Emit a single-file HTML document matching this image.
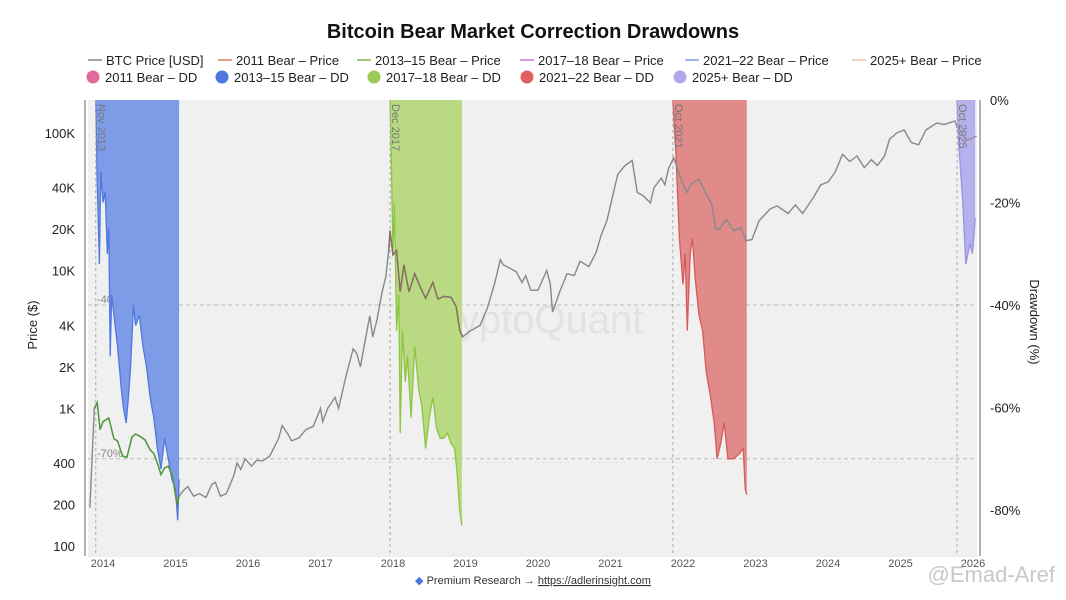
<!DOCTYPE html>
<html><head><meta charset="utf-8"><style>
body{margin:0;background:#fff;font-family:"Liberation Sans",sans-serif}
svg{display:block}
</style></head><body>
<svg id="c" width="1066" height="600" viewBox="0 0 1066 600" xmlns="http://www.w3.org/2000/svg" font-family="Liberation Sans, sans-serif">
<rect x="0" y="0" width="1066" height="600" fill="#fff"/>
<text x="533" y="38" text-anchor="middle" font-size="20" font-weight="bold" fill="#111">Bitcoin Bear Market Correction Drawdowns</text>
<rect x="88" y="100" width="889" height="455" fill="#f0f0f0"/>
<text x="530" y="333" text-anchor="middle" font-size="40" fill="#e2e2e4">CryptoQuant</text>
<g id="g"></g>
<line x1="85" y1="100" x2="85" y2="556" stroke="#999" stroke-width="1.5"/>
<line x1="980" y1="100" x2="980" y2="556" stroke="#999" stroke-width="1.5"/>
<line x1="88" y1="556" x2="977" y2="556" stroke="#ddd"/>
<text transform="translate(37,325) rotate(-90)" text-anchor="middle" font-size="13" fill="#222">Price ($)</text>
<text transform="translate(1030,322) rotate(90)" text-anchor="middle" font-size="13" fill="#222">Drawdown (%)</text>
<text x="533" y="584" text-anchor="middle" font-size="11" fill="#333"><tspan fill="#4a74de">◆</tspan> Premium Research → <tspan text-decoration="underline">https://adlerinsight.com</tspan></text>
<text x="1055" y="582" text-anchor="end" font-size="22" fill="#c8c8c8">@Emad-Aref</text>
<g id="legend" font-size="13" fill="#222"></g>
</svg>
<script>
const yearTicks=[2014,2015,2016,2017,2018,2019,2020,2021,2022,2023,2024,2025,2026];
const priceTicks=[100000,40000,20000,10000,4000,2000,1000,400,200,100];
const priceTickLabels=["100K","40K","20K","10K","4K","2K","1K","400","200","100"];
const ddTicks=[0,-20,-40,-60,-80];
const refLevels=[-40,-70];
const btcT=[2013.82,2013.88,2013.92,2013.96,2014.0,2014.08,2014.15,2014.2,2014.27,2014.33,2014.4,2014.45,2014.5,2014.58,2014.65,2014.7,2014.75,2014.8,2014.85,2014.9,2014.96,2015.02,2015.05,2015.1,2015.17,2015.25,2015.33,2015.42,2015.5,2015.55,2015.62,2015.7,2015.8,2015.85,2015.9,2015.96,2016.05,2016.12,2016.2,2016.3,2016.42,2016.47,2016.55,2016.6,2016.7,2016.8,2016.9,2017.0,2017.03,2017.1,2017.2,2017.25,2017.35,2017.45,2017.5,2017.55,2017.6,2017.68,2017.72,2017.78,2017.85,2017.9,2017.94,2017.96,2018.0,2018.05,2018.1,2018.15,2018.22,2018.3,2018.38,2018.45,2018.55,2018.62,2018.7,2018.8,2018.87,2018.92,2018.96,2019.05,2019.2,2019.3,2019.4,2019.48,2019.52,2019.6,2019.7,2019.78,2019.83,2019.9,2020.0,2020.12,2020.17,2020.2,2020.3,2020.4,2020.5,2020.58,2020.7,2020.8,2020.87,2020.95,2021.02,2021.1,2021.2,2021.3,2021.37,2021.45,2021.55,2021.6,2021.7,2021.75,2021.8,2021.87,2021.9,2021.97,2022.05,2022.12,2022.22,2022.3,2022.4,2022.45,2022.5,2022.6,2022.7,2022.8,2022.87,2022.95,2023.05,2023.2,2023.3,2023.45,2023.55,2023.65,2023.8,2023.9,2024.0,2024.1,2024.2,2024.3,2024.4,2024.5,2024.6,2024.68,2024.78,2024.85,2024.95,2025.05,2025.15,2025.25,2025.35,2025.5,2025.6,2025.75,2025.78,2025.85,2025.9,2025.95,2026.0,2026.05];
const btcP=[190,1000,1100,700,800,850,600,580,450,440,620,650,630,590,500,470,400,330,370,380,320,200,230,250,270,230,240,225,280,290,230,240,320,400,360,430,380,420,415,450,600,750,650,580,610,700,740,1000,800,1000,1200,1000,1700,2700,2500,2000,2800,4700,3300,4400,7000,9000,14000,19500,13000,14000,7000,11000,7000,9500,7500,6300,8200,6200,6500,6400,5500,3700,3300,3600,4000,5300,8000,12000,11000,10500,9800,8200,9200,7200,7200,10000,8000,5000,7000,9500,9200,11700,10700,13500,18000,23000,33000,50000,58000,63000,37000,35000,31000,40000,47000,42000,55000,66000,60000,47000,37000,43000,46000,38000,30000,20000,20000,23500,19500,20500,16500,16800,23000,28000,29500,26000,30000,26000,34000,42000,44000,52000,70000,62000,68000,56000,64000,58000,68000,90000,100000,105000,85000,82000,105000,118000,115000,122000,110000,100000,88000,90000,92000,95000];
const bearNames=["Nov 2013","Dec 2017","Oct 2021","Oct 2025"];
const bearStart=[2013.9,2017.96,2021.86,2025.78];
const bearEnd=[2015.05,2018.96,2022.9,2026.05];
const dd13T=[2013.90,2013.92,2013.95,2013.97,2014.0,2014.03,2014.06,2014.08,2014.1,2014.12,2014.15,2014.2,2014.25,2014.28,2014.32,2014.35,2014.38,2014.42,2014.45,2014.5,2014.55,2014.6,2014.65,2014.7,2014.75,2014.8,2014.85,2014.9,2014.95,2015.0,2015.03,2015.05];
const dd13V=[0,-16,-32,-14,-20,-18,-30,-25,-50,-38,-42,-48,-56,-60,-63,-58,-52,-40,-44,-42,-48,-52,-58,-62,-68,-72,-66,-70,-74,-76,-82,-74];
const dd17T=[2017.96,2017.98,2018.0,2018.02,2018.05,2018.08,2018.1,2018.13,2018.17,2018.2,2018.25,2018.3,2018.35,2018.4,2018.45,2018.5,2018.55,2018.6,2018.65,2018.7,2018.75,2018.8,2018.85,2018.88,2018.92,2018.95];
const dd17V=[0,-15,-30,-20,-45,-38,-65,-45,-55,-50,-62,-48,-56,-60,-68,-62,-58,-64,-66,-66,-65,-67,-68,-72,-80,-83];
const dd21T=[2021.86,2021.9,2021.95,2022.0,2022.03,2022.06,2022.1,2022.13,2022.17,2022.22,2022.27,2022.32,2022.38,2022.43,2022.47,2022.52,2022.57,2022.62,2022.7,2022.78,2022.83,2022.86,2022.88];
const dd21V=[0,-10,-27,-36,-30,-45,-30,-27,-35,-42,-45,-53,-58,-63,-70,-67,-63,-70,-70,-69,-68,-76,-77];
const dd25T=[2025.78,2025.8,2025.83,2025.86,2025.88,2025.9,2025.93,2025.96,2025.99,2026.01,2026.03];
const dd25V=[0,-8,-14,-20,-26,-32,-30,-28,-30,-27,-23];

const NS="http://www.w3.org/2000/svg";
const X=t=>103+(t-2014)*72.5;
const YP=p=>546-137.7*Math.log10(p/100);
const YD=d=>100-d*(410/80);
const g=document.getElementById('g');
function mk(tag,a,par){const e=document.createElementNS(NS,tag);for(const k in a)e.setAttribute(k,a[k]);(par||g).appendChild(e);return e;}

refLevels.forEach(l=>{
 const ln=mk('line',{x1:88,x2:977,y1:YD(l),y2:YD(l),stroke:'#bbb','stroke-dasharray':'4,3'});
 
 
 const t=mk('text',{x:97,y:YD(l)-2,'font-size':11,fill:'#888'});t.textContent=l+'%';
 
 
});
const dds=[[dd13T,dd13V,'#7d9be6','#4f78e0'],[dd17T,dd17V,'#b9d983','#8cc63f'],[dd21T,dd21V,'#e08a8a','#d65a5a'],[dd25T,dd25V,'#b6b1ec','#9a92e4']];
const ddNames=['dd-2013-15','dd-2017-18','dd-2021-22','dd-2025'];
dds.forEach((d,i)=>{
 const [T,V,fc,lc]=d;
 let pts=T.map((t,j)=>X(t).toFixed(1)+','+YD(V[j]).toFixed(1));
 const poly=mk('polygon',{points:X(T[0])+','+YD(0)+' '+pts.join(' ')+' '+X(T[T.length-1])+','+YD(0),fill:fc});
 
 
 const pl=mk('polyline',{points:pts.join(' '),fill:'none',stroke:lc,'stroke-width':1.3});
 
 
});
bearStart.forEach((t,i)=>{
 const l=mk('line',{x1:X(t),x2:X(t),y1:100,y2:556,stroke:'#aaa','stroke-dasharray':'3,3'});
 
 
 const tx=mk('text',{transform:`translate(${X(t)+2},104) rotate(90)`,'font-size':11,fill:'#777'});
 tx.textContent=bearNames[i];
 
 
});
const bp=mk('polyline',{points:btcT.map((t,j)=>X(t).toFixed(1)+','+YP(btcP[j]).toFixed(1)).join(' '),fill:'none',stroke:'#888','stroke-width':1.4});


const ovCol=['#4f9a3a','#8a6e5e','#8c8c8c','#9a90a8'];
bearStart.forEach((s,i)=>{
 const idx=btcT.map((t,j)=>j).filter(j=>btcT[j]>=s-0.03&&btcT[j]<=bearEnd[i]+0.01);
 const pl=mk('polyline',{points:idx.map(j=>X(btcT[j]).toFixed(1)+','+YP(btcP[j]).toFixed(1)).join(' '),fill:'none',stroke:ovCol[i],'stroke-width':1.4});
 
 
});
yearTicks.forEach(y=>{
 const t=mk('text',{x:X(y),y:567,'text-anchor':'middle','font-size':11,fill:'#555'});t.textContent=y;
 
 
});
priceTicks.forEach((p,i)=>{
 const t=mk('text',{x:75,y:YP(p)+5,'text-anchor':'end','font-size':13,fill:'#222'});t.textContent=priceTickLabels[i];
 
 
});
ddTicks.forEach(d=>{
 const t=mk('text',{x:990,y:YD(d)+5,'font-size':13,fill:'#222'});t.textContent=d+'%';
 
 
});
const lg=document.getElementById('legend');
const row1=[['BTC Price [USD]',88,'#888'],['2011 Bear – Price',218,'#e07b5a'],['2013–15 Bear – Price',357,'#7ab648'],['2017–18 Bear – Price',520,'#c080d0'],['2021–22 Bear – Price',685,'#7d9be6'],['2025+ Bear – Price',852,'#f2c2a0']];
row1.forEach(r=>{
 const l=mk('line',{x1:r[1],x2:r[1]+14,y1:60,y2:60,stroke:r[2],'stroke-width':1.5},lg);
 
 
 const t=mk('text',{x:r[1]+18,y:65},lg);t.textContent=r[0];
 
 
});
const row2=[['2011 Bear – DD',93,'#e06a9a'],['2013–15 Bear – DD',222,'#4f78e0'],['2017–18 Bear – DD',374,'#9ccc55'],['2021–22 Bear – DD',527,'#e06060'],['2025+ Bear – DD',680,'#b0a8ea']];
row2.forEach(r=>{
 const c=mk('circle',{cx:r[1],cy:77,r:6.5,fill:r[2]},lg);
 
 
 const t=mk('text',{x:r[1]+12,y:82},lg);t.textContent=r[0];
 
 
});
</script>
</body></html>
